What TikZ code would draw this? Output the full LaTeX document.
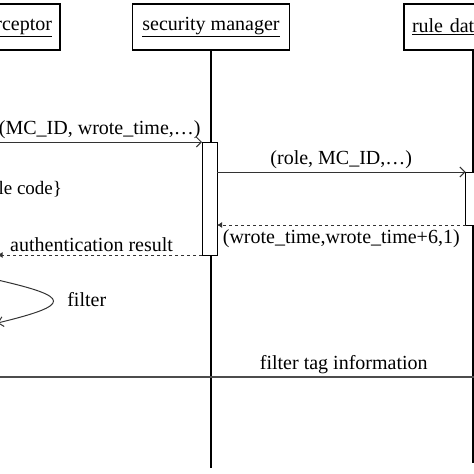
\documentclass[tikz,border=0pt]{standalone}
\usepackage{fontspec}
\setmainfont{Liberation Serif}
\usetikzlibrary{arrows.meta,positioning,calc}

\begin{document}
\begin{tikzpicture}[x=1pt,y=-1pt,every node/.style={outer sep=0pt},font=\fontsize{20}{24}\selectfont]

	\tikzstyle{head}=[draw,line width=1.6pt,minimum height=46pt,inner sep=0pt]
	\tikzstyle{life}=[line width=1.8pt]
	\tikzstyle{act}=[draw,fill=white,line width=1pt,minimum width=15pt,inner sep=0pt]
	\tikzstyle{msg}=[line width=1pt,draw=black!80,-{Straight Barb[length=5pt,width=10pt]}]
	\tikzstyle{ret}=[line width=1pt,draw=black!80,dashed,-{Latex[length=5pt,width=6pt]}]

	\useasboundingbox (0,0) rectangle (474,474);
	\clip (0,0) rectangle (474,474);

	% lifeline heads
	\node (ic) at (-10,27) [head, minimum width=140pt, text width=124pt, align=right] {\underline{interceptor}};
	\node (sm) at (211,27) [head, minimum width=157pt] {\underline{security manager}};
	\node (rd) at (473,27) [head, minimum width=138pt, text width=122pt, align=left] {\underline{rule database}};

	\draw [life] (ic.south) -- ++(0,420);
	\draw [life] (sm.south) -- ++(0,418);
	\draw [life] (rd.south) -- ++(0,413);

	% activations
	\node (icact) at (-10,250) [act, minimum height=300pt] {};
	\node (smact) at (209.5,198.5) [act, minimum height=113pt] {};
	\node (rdact) at (473,198.5) [act, minimum height=53pt] {};

	% messages
	\draw [msg] (icact.east |- smact.north) -- (smact.north west) node[midway,above,inner sep=3pt] {(MC\_ID, wrote\_time,…)};
	\node (guard) at (62,189) [anchor=east,inner sep=0pt,font=\fontsize{19}{22}\selectfont] {\{mobile code\}};
	\draw [msg] (smact.east |- rdact.north) -- (rdact.north west) node[midway,above,inner sep=3pt] {(role, MC\_ID,…)};
	\draw [ret] (rdact.south west) -- (smact.east |- rdact.south) node[midway,below,inner sep=5pt] {(wrote\_time,wrote\_time+6,1)};
	\draw [ret] (smact.south west) -- (icact.east |- smact.south) node[pos=.54,above,inner sep=3pt] {authentication result};

	% self call
	\draw [msg] (icact.east |- 0,280) .. controls (72,297) and (72,305) .. (icact.east |- 0,323);
	\node (filt) at (64,300) [anchor=west] {filter};

	\coordinate (far) at (690,377);
	\draw [msg,line width=1.6pt,draw=black!70] (icact.east |- far) -- (far) node[midway,above,inner sep=3pt] {filter tag information};

\end{tikzpicture}
\end{document}
